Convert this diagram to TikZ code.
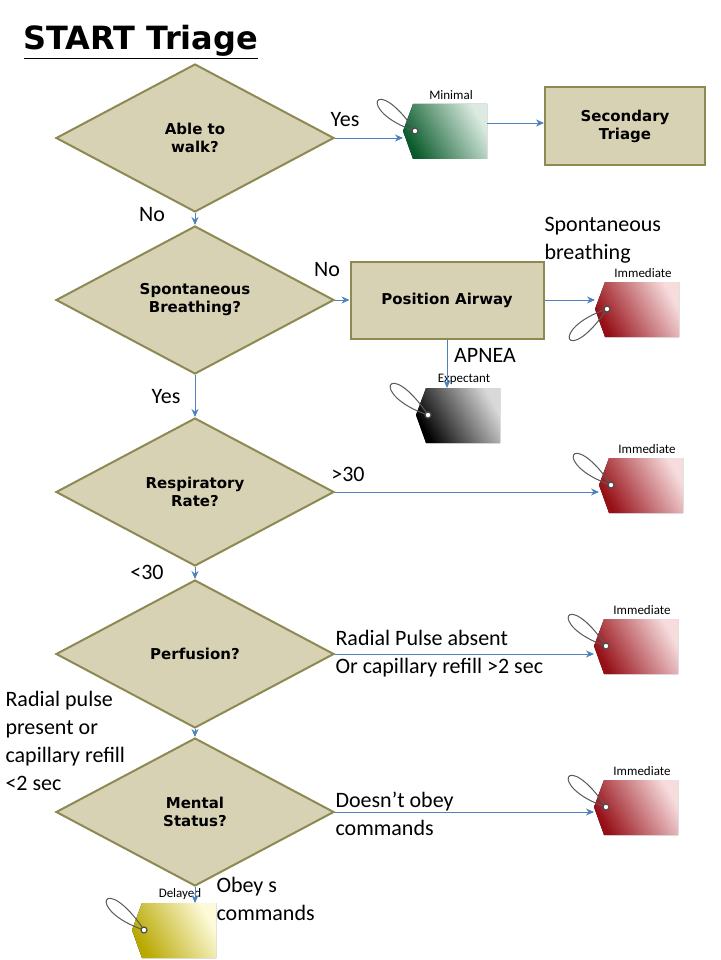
\documentclass[tikz,border=0pt]{standalone}
\usepackage{fontspec}
\setmainfont{Carlito}
\newfontfamily\vd{DejaVu Sans}
\usetikzlibrary{shapes.geometric,arrows.meta}
\definecolor{tan}{HTML}{D8D2B4}
\definecolor{olive}{HTML}{8C8A52}
\definecolor{ablue}{HTML}{4F81BD}
\definecolor{tgreen}{HTML}{0E7A3A}
\definecolor{tred}{HTML}{C8141E}
\definecolor{tyel}{HTML}{F5E000}
\tikzset{
 dia/.style={diamond,draw=olive,line width=2pt,fill=tan,aspect=1.88,minimum width=278pt,minimum height=148pt,inner sep=0pt,font=\vd\bfseries\fontsize{15}{18}\selectfont,align=center},
 box/.style={rectangle,draw=olive,line width=2pt,fill=tan,font=\vd\bfseries\fontsize{15}{18}\selectfont,align=center},
 arr/.style={draw=ablue,line width=0.9pt,-{Stealth[length=8pt,width=7pt]}},
 lbl/.style={font=\fontsize{22}{28}\selectfont,align=left},
 tl/.style={font=\fontsize{13}{14}\selectfont}
}
% #1 x, #2 y, #3 colour, #4 loop yscale, #5 label, #6 name
\newcommand\tagat[6]{%
 \begin{scope}[shift={(#1,#2)}]
  \fill[left color=#3!75!black,middle color=#3,right color=#3!15,shading angle=120] (-12,0)--(-2,-27)--(72,-27)--(72,28)--(-2,28)--cycle;
  \draw[gray!70!black,line width=1pt,yscale=#4] (0,0) .. controls (-40,-60) and (-60,-20) .. (0,0);
  \fill[white] (0,0) circle (3pt);
  \draw[gray!60!black,line width=1.2pt] (0,0) circle (3pt);
  \node[tl] at (36,-36) {#5};
  \coordinate (#6) at (-12,0);
  \coordinate (#6t) at (36,-27);
  \coordinate (#6r) at (72,-8);
 \end{scope}}
\begin{document}
\begin{tikzpicture}[x=1pt,y=-1pt]
\useasboundingbox (0,0) rectangle (720,960);
\node[font=\vd\bfseries\fontsize{32}{36}\selectfont,anchor=west] (title) at (20,42) {\underline{START Triage}};
\node[dia] (d1) at (195,138) {Able to\\walk?};
\node[dia] (d2) at (195,300) {Spontaneous\\Breathing?};
\node[dia] (d3) at (195,492) {Respiratory\\Rate?};
\node[dia] (d4) at (195,654) {Perfusion?};
\node[dia] (d5) at (195,812) {Mental\\Status?};
\node[box,minimum width=160pt,minimum height=78pt] (sec) at (625,126) {Secondary\\Triage};
\node[box,minimum width=193pt,minimum height=77pt] (pa) at (447,300) {Position Airway};
\tagat{415}{131}{tgreen}{1}{Minimal}{t1}
\tagat{607}{309}{tred}{-1}{Immediate}{t2}
\tagat{428}{415}{black}{1}{Expectant}{t3}
\tagat{611}{485}{tred}{1}{Immediate}{t4}
\tagat{606}{646}{tred}{1}{Immediate}{t5}
\tagat{606}{807}{tred}{1}{Immediate}{t6}
\tagat{144}{930}{tyel}{1}{Delayed}{t7}
\draw[arr] (d1.east) -- (t1 |- d1.east);
\draw[arr] (t1r) -- (sec.west |- t1r);
\draw[arr] (d1.south) -- (d2.north);
\draw[arr] (d2.east) -- (pa.west);
\draw[arr] (pa.east) -- (t2 |- pa.east);
\draw[arr] (pa.south) -- (t3t -| pa.south);
\draw[arr] (d2.south) -- (d3.north);
\draw[arr] (d3.east) -- (t4 |- d3.east);
\draw[arr] (d3.south) -- (d4.north);
\draw[arr] (d4.east) -- (t5 |- d4.east);
\draw[arr] (d4.south) -- (d5.north);
\draw[arr] (d5.east) -- (t6 |- d5.east);
\draw[arr] (d5.south) -- (t7t -| d5.south);
\node[lbl] (l1) at (345,120) {Yes};
\node[lbl] (l2) at (152,215) {No};
\node[lbl] (l3) at (327,270) {No};
\node[lbl,anchor=west] (l4) at (541,240) {Spontaneous\\breathing};
\node[lbl] (l5) at (485,355) {APNEA};
\node[lbl] (l6) at (166,397) {Yes};
\node[lbl] (l7) at (348,474) {>30};
\node[lbl] (l8) at (147,572) {<30};
\node[lbl,anchor=west] (l9) at (332,654) {Radial Pulse absent\\Or capillary refill >2 sec};
\node[lbl,anchor=west] (l10) at (2,741) {Radial pulse\\present or\\capillary refill\\<2 sec};
\node[lbl,anchor=west] (l11) at (332,814) {Doesn’t obey\\commands};
\node[lbl,anchor=west] (l12) at (213,899) {Obey s\\commands};
\end{tikzpicture}
\end{document}
